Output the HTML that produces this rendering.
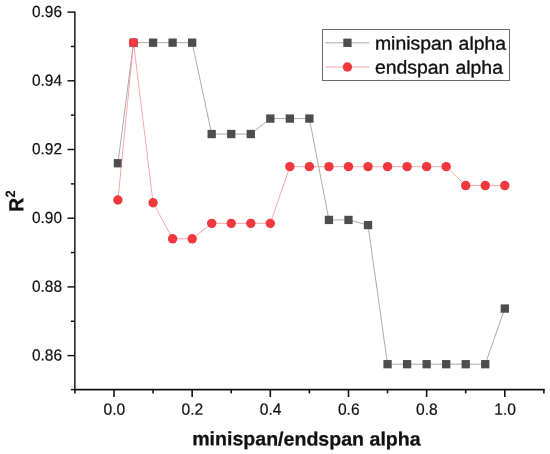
<!DOCTYPE html><html><head><meta charset="utf-8"><title>chart</title><style>html,body{margin:0;padding:0;background:#fff}svg{display:block}text{font-family:"Liberation Sans",Arial,sans-serif;fill:#111;text-rendering:geometricPrecision}</style></head><body>
<svg width="550" height="454" viewBox="0 0 550 454">
<rect width="550" height="454" fill="#fff"/>
<g stroke="#111" stroke-width="1.45" fill="none" stroke-linecap="butt">
<path d="M74.85 11.38V390.32"/>
<path d="M74.13 389.6H544.66" stroke-width="1.55"/>
<path d="M67.45 355.60H74.85"/>
<path d="M67.45 286.90H74.85"/>
<path d="M67.45 218.20H74.85"/>
<path d="M67.45 149.50H74.85"/>
<path d="M67.45 80.80H74.85"/>
<path d="M67.45 12.10H74.85"/>
<path d="M70.85 389.60H74.85"/>
<path d="M70.85 321.25H74.85"/>
<path d="M70.85 252.55H74.85"/>
<path d="M70.85 183.85H74.85"/>
<path d="M70.85 115.15H74.85"/>
<path d="M70.85 46.45H74.85"/>
<path d="M114.00 389.6V397.00" stroke-width="1.6"/>
<path d="M192.16 389.6V397.00" stroke-width="1.6"/>
<path d="M270.32 389.6V397.00" stroke-width="1.6"/>
<path d="M348.48 389.6V397.00" stroke-width="1.6"/>
<path d="M426.64 389.6V397.00" stroke-width="1.6"/>
<path d="M504.80 389.6V397.00" stroke-width="1.6"/>
<path d="M74.92 389.6V393.40" stroke-width="1.6"/>
<path d="M153.08 389.6V393.40" stroke-width="1.6"/>
<path d="M231.24 389.6V393.40" stroke-width="1.6"/>
<path d="M309.40 389.6V393.40" stroke-width="1.6"/>
<path d="M387.56 389.6V393.40" stroke-width="1.6"/>
<path d="M465.72 389.6V393.40" stroke-width="1.6"/>
<path d="M543.88 389.6V393.40" stroke-width="1.6"/>
</g>
<text transform="translate(61.95 360.45) rotate(0.03) scale(1 1.04)" font-size="15.4" text-anchor="end" stroke="#111" stroke-width="0.2">0.86</text>
<text transform="translate(61.95 291.75) rotate(0.03) scale(1 1.04)" font-size="15.4" text-anchor="end" stroke="#111" stroke-width="0.2">0.88</text>
<text transform="translate(61.95 223.05) rotate(0.03) scale(1 1.04)" font-size="15.4" text-anchor="end" stroke="#111" stroke-width="0.2">0.90</text>
<text transform="translate(61.95 154.35) rotate(0.03) scale(1 1.04)" font-size="15.4" text-anchor="end" stroke="#111" stroke-width="0.2">0.92</text>
<text transform="translate(61.95 85.65) rotate(0.03) scale(1 1.04)" font-size="15.4" text-anchor="end" stroke="#111" stroke-width="0.2">0.94</text>
<text transform="translate(61.95 16.95) rotate(0.03) scale(1 1.04)" font-size="15.4" text-anchor="end" stroke="#111" stroke-width="0.2">0.96</text>
<text transform="translate(114.30 414.7) rotate(0.03) scale(1 1.04)" font-size="15.6" text-anchor="middle" stroke="#111" stroke-width="0.2">0.0</text>
<text transform="translate(192.46 414.7) rotate(0.03) scale(1 1.04)" font-size="15.6" text-anchor="middle" stroke="#111" stroke-width="0.2">0.2</text>
<text transform="translate(270.62 414.7) rotate(0.03) scale(1 1.04)" font-size="15.6" text-anchor="middle" stroke="#111" stroke-width="0.2">0.4</text>
<text transform="translate(348.78 414.7) rotate(0.03) scale(1 1.04)" font-size="15.6" text-anchor="middle" stroke="#111" stroke-width="0.2">0.6</text>
<text transform="translate(426.94 414.7) rotate(0.03) scale(1 1.04)" font-size="15.6" text-anchor="middle" stroke="#111" stroke-width="0.2">0.8</text>
<text transform="translate(505.10 414.7) rotate(0.03) scale(1 1.04)" font-size="15.6" text-anchor="middle" stroke="#111" stroke-width="0.2">1.0</text>
<text transform="translate(306.4 445.4) rotate(0.03) scale(1 0.985)" font-size="19.58" font-weight="bold" text-anchor="middle" fill="#0a0a0a" stroke="#0a0a0a" stroke-width="0.25">minispan/endspan alpha</text>
<text transform="translate(23.2 211.8) rotate(-89.97) scale(0.94 1)" font-size="20.3" font-weight="bold" stroke="#111" stroke-width="0.3">R<tspan font-size="13.5" dy="-8.15" dx="0.5" stroke-width="0.15">2</tspan></text>
<polyline points="117.91,163.24 133.54,42.67 153.08,42.67 172.62,42.67 192.16,42.67 211.70,134.04 231.24,134.04 250.78,134.04 270.32,118.58 289.86,118.58 309.40,118.58 328.94,219.92 348.48,219.92 368.02,225.07 387.56,364.19 407.10,364.19 426.64,364.19 446.18,364.19 465.72,364.19 485.26,364.19 504.80,308.54" fill="none" stroke="#858585" stroke-width="0.7"/>
<rect x="113.76" y="159.09" width="8.3" height="8.3" fill="#4d4d4d"/>
<rect x="129.39" y="38.52" width="8.3" height="8.3" fill="#4d4d4d"/>
<rect x="148.93" y="38.52" width="8.3" height="8.3" fill="#4d4d4d"/>
<rect x="168.47" y="38.52" width="8.3" height="8.3" fill="#4d4d4d"/>
<rect x="188.01" y="38.52" width="8.3" height="8.3" fill="#4d4d4d"/>
<rect x="207.55" y="129.89" width="8.3" height="8.3" fill="#4d4d4d"/>
<rect x="227.09" y="129.89" width="8.3" height="8.3" fill="#4d4d4d"/>
<rect x="246.63" y="129.89" width="8.3" height="8.3" fill="#4d4d4d"/>
<rect x="266.17" y="114.43" width="8.3" height="8.3" fill="#4d4d4d"/>
<rect x="285.71" y="114.43" width="8.3" height="8.3" fill="#4d4d4d"/>
<rect x="305.25" y="114.43" width="8.3" height="8.3" fill="#4d4d4d"/>
<rect x="324.79" y="215.77" width="8.3" height="8.3" fill="#4d4d4d"/>
<rect x="344.33" y="215.77" width="8.3" height="8.3" fill="#4d4d4d"/>
<rect x="363.87" y="220.92" width="8.3" height="8.3" fill="#4d4d4d"/>
<rect x="383.41" y="360.04" width="8.3" height="8.3" fill="#4d4d4d"/>
<rect x="402.95" y="360.04" width="8.3" height="8.3" fill="#4d4d4d"/>
<rect x="422.49" y="360.04" width="8.3" height="8.3" fill="#4d4d4d"/>
<rect x="442.03" y="360.04" width="8.3" height="8.3" fill="#4d4d4d"/>
<rect x="461.57" y="360.04" width="8.3" height="8.3" fill="#4d4d4d"/>
<rect x="481.11" y="360.04" width="8.3" height="8.3" fill="#4d4d4d"/>
<rect x="500.65" y="304.39" width="8.3" height="8.3" fill="#4d4d4d"/>
<polyline points="117.91,199.99 133.54,42.67 153.08,202.74 172.62,238.81 192.16,238.81 211.70,223.35 231.24,223.35 250.78,223.35 270.32,223.35 289.86,166.67 309.40,166.67 328.94,166.67 348.48,166.67 368.02,166.67 387.56,166.67 407.10,166.67 426.64,166.67 446.18,166.67 465.72,185.57 485.26,185.57 504.80,185.57" fill="none" stroke="#f48c90" stroke-width="0.75"/>
<circle cx="117.91" cy="199.99" r="4.7" fill="#f0383e"/>
<circle cx="133.54" cy="42.67" r="4.7" fill="#f0383e"/>
<circle cx="153.08" cy="202.74" r="4.7" fill="#f0383e"/>
<circle cx="172.62" cy="238.81" r="4.7" fill="#f0383e"/>
<circle cx="192.16" cy="238.81" r="4.7" fill="#f0383e"/>
<circle cx="211.70" cy="223.35" r="4.7" fill="#f0383e"/>
<circle cx="231.24" cy="223.35" r="4.7" fill="#f0383e"/>
<circle cx="250.78" cy="223.35" r="4.7" fill="#f0383e"/>
<circle cx="270.32" cy="223.35" r="4.7" fill="#f0383e"/>
<circle cx="289.86" cy="166.67" r="4.7" fill="#f0383e"/>
<circle cx="309.40" cy="166.67" r="4.7" fill="#f0383e"/>
<circle cx="328.94" cy="166.67" r="4.7" fill="#f0383e"/>
<circle cx="348.48" cy="166.67" r="4.7" fill="#f0383e"/>
<circle cx="368.02" cy="166.67" r="4.7" fill="#f0383e"/>
<circle cx="387.56" cy="166.67" r="4.7" fill="#f0383e"/>
<circle cx="407.10" cy="166.67" r="4.7" fill="#f0383e"/>
<circle cx="426.64" cy="166.67" r="4.7" fill="#f0383e"/>
<circle cx="446.18" cy="166.67" r="4.7" fill="#f0383e"/>
<circle cx="465.72" cy="185.57" r="4.7" fill="#f0383e"/>
<circle cx="485.26" cy="185.57" r="4.7" fill="#f0383e"/>
<circle cx="504.80" cy="185.57" r="4.7" fill="#f0383e"/>
<rect x="322.5" y="29.5" width="187" height="51" fill="#fff" stroke="#686868" stroke-width="1"/>
<path d="M325.2 42.8H369.5" stroke="#858585" stroke-width="0.7"/>
<rect x="343.3" y="38.65" width="8.3" height="8.3" fill="#4d4d4d"/>
<path d="M325.2 67H369.5" stroke="#f48c90" stroke-width="0.75"/>
<circle cx="347.45" cy="67" r="4.7" fill="#f0383e"/>
<text transform="translate(374.9 49.6) rotate(0.03) scale(1 0.955)" font-size="19.43" word-spacing="0.6" stroke="#111" stroke-width="0.35">minispan alpha</text>
<text transform="translate(374.9 73.6) rotate(0.03) scale(1 0.955)" font-size="19.43" word-spacing="0.6" stroke="#111" stroke-width="0.35">endspan alpha</text>
</svg></body></html>
